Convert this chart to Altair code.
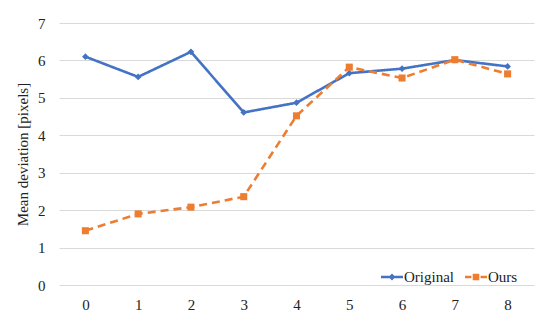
import altair as alt
import pandas as pd

steps = [0, 1, 2, 3, 4, 5, 6, 7, 8]
original = [6.10, 5.56, 6.23, 4.61, 4.87, 5.66, 5.78, 6.01, 5.84]
ours = [1.45, 1.90, 2.08, 2.36, 4.52, 5.82, 5.53, 6.02, 5.64]
series_names = ["Original", "Ours"]
colors = ["#4472C4", "#ED7D31"]

df = pd.DataFrame({
    "step": steps * 2,
    "value": original + ours,
    "series": ["Original"] * len(steps) + ["Ours"] * len(steps),
})

FONT = "Liberation Serif"
FS = 15

x = alt.X("step:O", scale=alt.Scale(type="point", padding=0.5),
          axis=alt.Axis(title=None, labelAngle=0, ticks=False, domain=False,
                        labelPadding=12, grid=False))
y = alt.Y("value:Q", scale=alt.Scale(domain=[0, 7], nice=False),
          axis=alt.Axis(title="Mean deviation [pixels]", values=list(range(8)),
                        ticks=False, domain=False, labelPadding=14, titlePadding=7,
                        gridColor="#D9D9D9", gridWidth=1.2))

path_orig = ("M-1,-0.11H1V0.11H-1Z "
             "M0,-0.32L0.3,0L0,0.32L-0.3,0Z")
path_ours = ("M-1,-0.11H-0.42V0.11H-1Z "
             "M-0.3,-0.3H0.3V0.3H-0.3Z "
             "M0.42,-0.11H1V0.11H0.42Z")

legend_spec = alt.Legend(orient="none", legendX=322, legendY=243,
                         direction="horizontal", symbolOpacity=1,
                         symbolStrokeWidth=0, symbolSize=484,
                         labelFont=FONT, labelFontSize=FS, labelColor="#222222",
                         labelOffset=1, columnPadding=11)
color = alt.Color("series:N", scale=alt.Scale(domain=series_names, range=colors),
                  title=None, legend=legend_spec)

base = alt.Chart(df)

lines = base.mark_line(strokeWidth=2.6).encode(
    x=x, y=y, color=color,
    strokeDash=alt.StrokeDash("series:N",
                              scale=alt.Scale(domain=series_names, range=[[1, 0], [8, 5]]),
                              legend=None),
)

pts_orig = base.transform_filter(alt.datum.series == "Original").mark_point(
    shape="diamond", filled=True, size=45, opacity=1).encode(x=x, y=y, color=color)
pts_ours = base.transform_filter(alt.datum.series == "Ours").mark_point(
    shape="square", filled=True, size=50, opacity=1).encode(x=x, y=y, color=color)

legend_layer = base.mark_point(filled=True, size=484).encode(
    x=x, y=y, color=color,
    opacity=alt.value(0),
    shape=alt.Shape("series:N", scale=alt.Scale(domain=series_names, range=[path_orig, path_ours]),
                    title=None, legend=legend_spec),
)

chart = alt.layer(lines, pts_orig, pts_ours, legend_layer).properties(
    width=475, height=262,
    padding={"left": 7, "top": 8, "right": 5, "bottom": 5},
).configure_view(stroke=None).configure_axis(
    labelFont=FONT, titleFont=FONT, labelFontSize=FS, titleFontSize=FS,
    labelColor="#222222", titleColor="#222222", titleFontWeight="normal",
).configure_axisX(grid=False)

chart.save("out.html", embed_options={"renderer": "svg", "actions": False})
